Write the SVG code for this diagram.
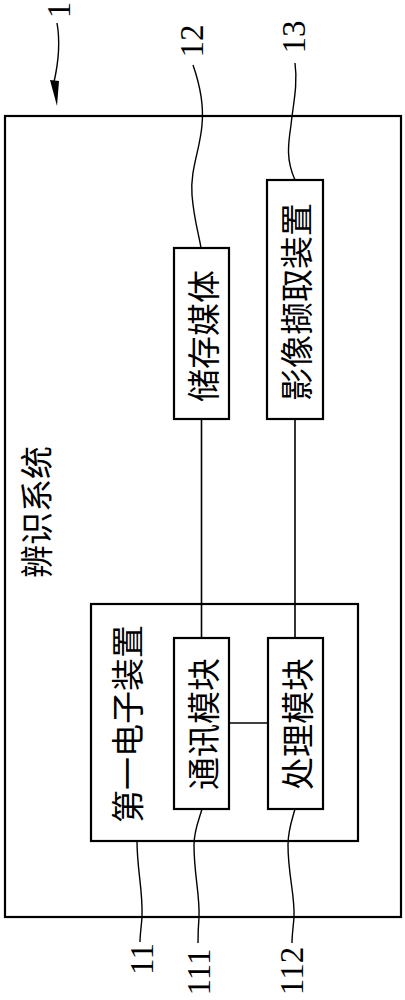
<svg xmlns="http://www.w3.org/2000/svg" width="405" height="1000" viewBox="0 0 405 1000">
<style>
.box{fill:none;stroke:#000;stroke-width:2.2}
.ln{fill:none;stroke:#000;stroke-width:1.6}
.ld{fill:none;stroke:#000;stroke-width:1.4}
.cj{font-family:"Noto Sans CJK SC","Noto Sans CJK TC",sans-serif;font-size:33px;text-anchor:middle;dominant-baseline:central;fill:#000}
.num{font-family:"Liberation Serif",serif;font-size:33px;text-anchor:middle;fill:#000}
</style>
<rect width="405" height="1000" fill="#fff"/>
<g id="system">
<rect class="box" x="5" y="116" width="396" height="801"/>
<text class="cj" transform="translate(35,512) rotate(-90)">辨识系统</text>
</g>
<g id="device">
<rect class="box" x="91" y="604" width="267" height="237"/>
<text class="cj" transform="translate(126,724) rotate(-90)">第一电子装置</text>
</g>
<g id="comm">
<rect class="box" x="174" y="638" width="55" height="171"/>
<text class="cj" transform="translate(201.5,724) rotate(-90)">通讯模块</text>
</g>
<g id="proc">
<rect class="box" x="268" y="638" width="55" height="171"/>
<text class="cj" transform="translate(295.5,724) rotate(-90)">处理模块</text>
</g>
<g id="storage">
<rect class="box" x="174" y="248" width="55" height="171"/>
<text class="cj" transform="translate(201.5,336) rotate(-90)">储存媒体</text>
</g>
<g id="camera">
<rect class="box" x="267" y="180" width="56" height="239"/>
<text class="cj" transform="translate(295,302) rotate(-90)">影像撷取装置</text>
</g>
<g id="connectors">
<line class="ln" x1="201.5" y1="419" x2="201.5" y2="638"/>
<line class="ln" x1="295" y1="419" x2="295" y2="638"/>
<line class="ln" x1="229" y1="723" x2="268" y2="723"/>
</g>
<g id="labels">
<path class="ld" d="M57,23 C60,40 59,60 54,82"/>
<path d="M50,80 L59,81 L57,106 Z" fill="#000"/>
<text class="num" transform="translate(70,10) rotate(-90)">1</text>
<path class="ld" d="M193,65 C200,85 204,105 202,125 C200,150 190,170 192,195 C194,220 199,235 201,248"/>
<text class="num" transform="translate(203,41) rotate(-90)">12</text>
<path class="ld" d="M295,63 C298,85 293,105 291,125 C288,145 286,160 295,180"/>
<text class="num" transform="translate(305,37) rotate(-90)">13</text>
<path class="ld" d="M137,841 C137,870 143,890 142,917 C141,930 140,935 140,942"/>
<text class="num" transform="translate(153,959) rotate(-90)">11</text>
<path class="ld" d="M202,809 C199,820 194,830 194,845 C194,875 200,895 199,917 C198,930 198,935 198,943"/>
<text class="num" transform="translate(210,972) rotate(-90)">111</text>
<path class="ld" d="M295,809 C292,820 288,830 288,845 C288,875 295,895 294,917 C293,930 292,935 292,943"/>
<text class="num" transform="translate(303,971) rotate(-90)">112</text>
</g>
</svg>
